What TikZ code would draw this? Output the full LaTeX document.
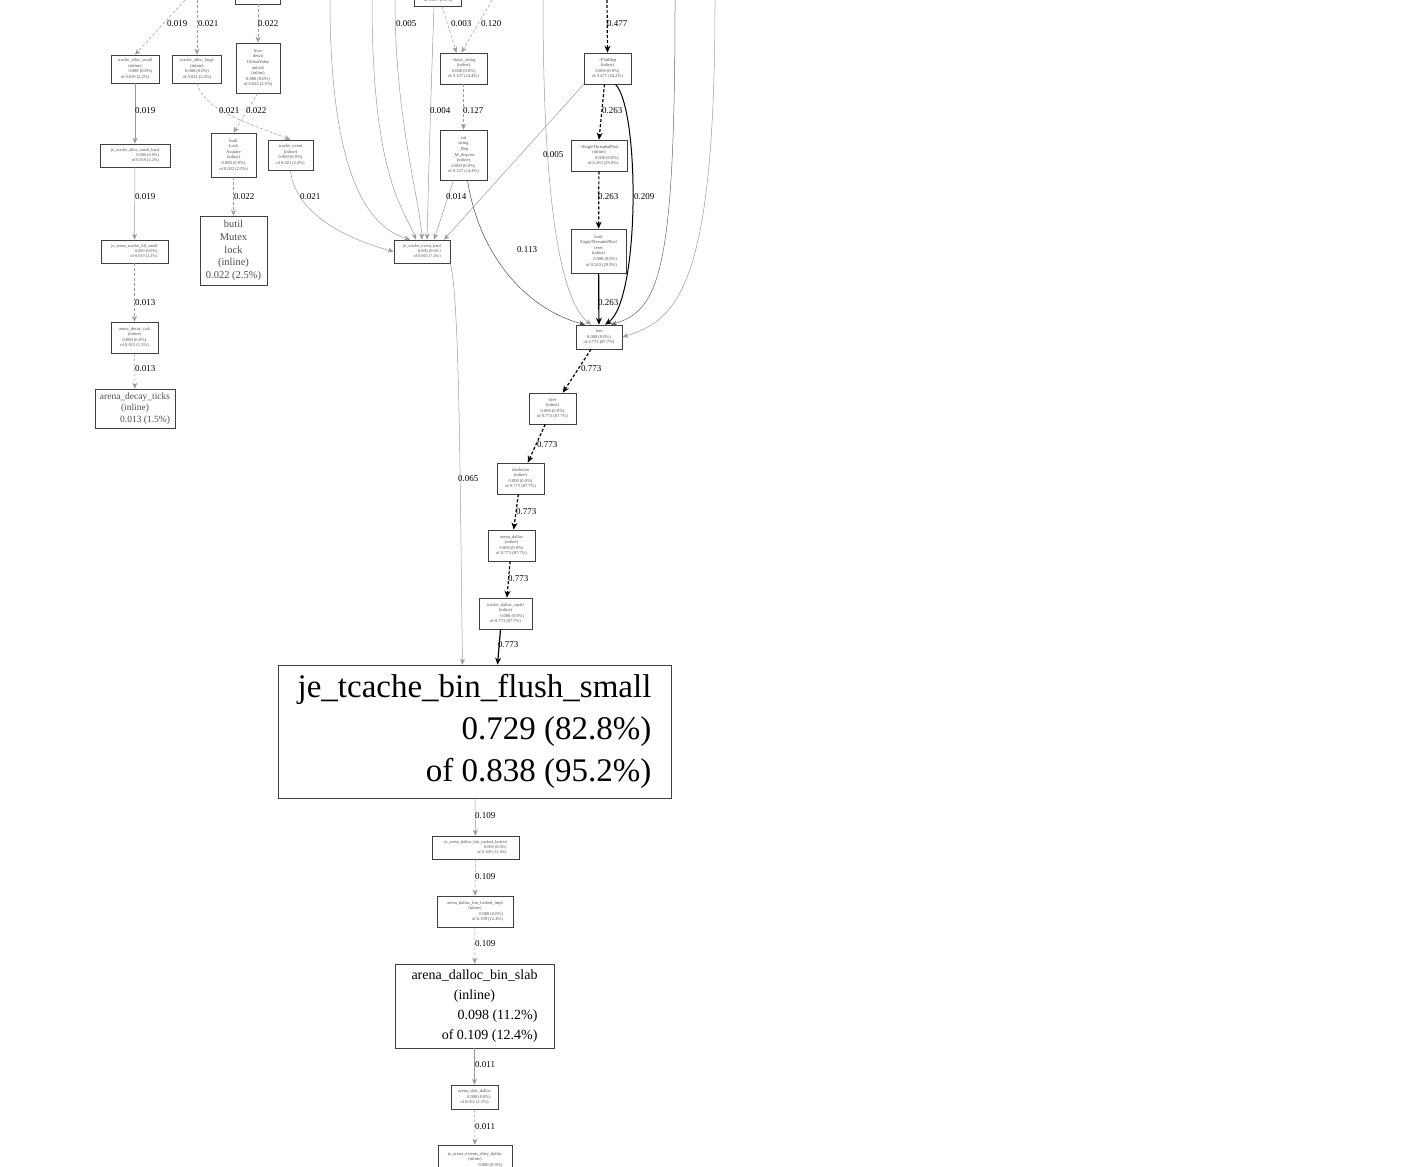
\documentclass[tikz,border=0pt]{standalone}
\usepackage{fontspec}
\setmainfont{Liberation Serif}
\usetikzlibrary{arrows.meta}
\newcommand{\NB}[8]{\node[pbox,minimum width=#4pt,minimum height=#5pt,font=\fontsize{#6}{#7}\selectfont] (#1) at (#2,#3) {#8};}
\tikzset{
 pbox/.style={draw=black!75,line width=0.6pt,inner sep=0pt,align=center,text=black!70},
 lab/.style={font=\fontsize{9}{10}\selectfont,inner sep=0pt,anchor=west},
 e/.style={-{Stealth[length=6pt,width=5pt]},draw=black!40,line width=0.5pt},
 ed/.style={e,dashed,dash pattern=on 3pt off 2pt},
 et/.style={-{Stealth[length=7pt,width=6pt]},draw=black,line width=1.2pt},
 etd/.style={et,dash pattern=on 3pt off 2pt},
}
\begin{document}
\begin{tikzpicture}[x=1pt,y=-1pt]
\useasboundingbox (0,0) rectangle (1412,1166);
\begin{scope}
\clip (0,0) rectangle (1412,1166);
% partial top nodes
\node[pbox,minimum width=45pt,minimum height=20pt] (topl) at (258,-6) {};
\node[pbox,minimum width=47pt,minimum height=20pt,font=\fontsize{4.5}{5}\selectfont] (topm) at (438,-4) {\\[6pt]of 0.007 (0.8\%)};
% left column
\NB{tas}{135}{69}{48}{28}{4.5}{5.4}{tcache\_alloc\_small\\(inline)\\\hfill0.000 (0.0\%)\\of 0.019 (2.2\%)}
\NB{tal}{197}{69}{49}{28}{4.5}{5.4}{tcache\_alloc\_large\\(inline)\\0.000 (0.0\%)\\of 0.021 (2.4\%)}
\NB{bvar}{258}{68}{44}{50}{4.5}{5.6}{bvar\\detail\\GlobalValue\\unlock\\(inline)\\0.000 (0.0\%)\\of 0.022 (2.5\%)}
\NB{tash}{135}{155.5}{70}{23}{4.3}{5.2}{je\_tcache\_alloc\_small\_hard\\\hfill0.000 (0.0\%)\\\hfill of 0.019 (2.2\%)}
\NB{bla}{233.5}{155}{45}{44}{4.5}{5.6}{butil\\Lock\\Acquire\\(inline)\\0.000 (0.0\%)\\of 0.022 (2.5\%)}
\NB{tev}{290.5}{155}{45}{30}{4.5}{5.4}{tcache\_event\\(inline)\\0.000 (0.0\%)\\of 0.021 (2.4\%)}
\NB{atf}{134.5}{251.5}{67}{23}{4.3}{5.2}{je\_arena\_tcache\_fill\_small\\\hfill0.000 (0.0\%)\\\hfill of 0.019 (2.2\%)}
\NB{mtx}{233.5}{250.5}{67}{69}{10.5}{12.6}{butil\\Mutex\\lock\\(inline)\\0.022 (2.5\%)}
\NB{adt}{134.5}{337.5}{47}{31}{4.5}{5.4}{arena\_decay\_tick\\(inline)\\0.000 (0.0\%)\\of 0.013 (1.5\%)}
\NB{adts}{135}{408.5}{80}{39}{9.5}{11.4}{arena\_decay\_ticks\\(inline)\\\hfill0.013 (1.5\%)}
% middle
\NB{bs}{463.5}{68.5}{47}{31}{4.5}{5.4}{\textasciitilde basic\_string\\(inline)\\\hfill0.000 (0.0\%)\\of 0.127 (14.4\%)}
\NB{rep}{463.5}{155}{47}{50}{4.5}{5.6}{std\\string\\\_Rep\\\_M\_dispose\\(inline)\\0.000 (0.0\%)\\of 0.127 (14.4\%)}
\NB{teh}{422}{251.5}{56}{23}{4.3}{5.2}{je\_tcache\_event\_hard\\\hfill0.000 (0.0\%)\\\hfill of 0.065 (7.4\%)}
% right
\NB{fm}{607.5}{68.5}{47}{31}{4.5}{5.4}{\textasciitilde FlatMap\\(inline)\\\hfill0.000 (0.0\%)\\of 0.477 (54.2\%)}
\NB{stp}{599}{155.5}{56}{31}{4.5}{5.4}{\textasciitilde SingleThreadedPool\\(inline)\\\hfill0.000 (0.0\%)\\\hfill of 0.263 (29.9\%)}
\NB{rst}{598.5}{251}{55}{44}{4.5}{5.6}{butil\\SingleThreadedPool\\reset\\(inline)\\\hfill0.000 (0.0\%)\\\hfill of 0.263 (29.9\%)}
\NB{free}{599}{337}{46}{24}{4.5}{5.4}{free\\\hfill0.000 (0.0\%)\\of 0.773 (87.7\%)}
\NB{ifree}{552.5}{408.5}{47}{31}{4.5}{5.4}{ifree\\(inline)\\\hfill0.000 (0.0\%)\\of 0.773 (87.7\%)}
\NB{idm}{520.5}{478.5}{47}{31}{4.5}{5.4}{idalloctm\\(inline)\\\hfill0.000 (0.0\%)\\of 0.773 (87.7\%)}
\NB{ad}{511.5}{545.5}{47}{31}{4.5}{5.4}{arena\_dalloc\\(inline)\\\hfill0.000 (0.0\%)\\of 0.773 (87.7\%)}
\NB{tds}{505.5}{613.5}{53}{31}{4.5}{5.4}{tcache\_dalloc\_small\\(inline)\\\hfill0.000 (0.0\%)\\of 0.773 (87.7\%)}
% big
\node[pbox,text=black,minimum width=393pt,minimum height=133pt,font=\fontsize{33}{42}\selectfont] (fl) at (474.5,731.5) {je\_tcache\_bin\_flush\_small\\\hfill0.729 (82.8\%)\\\hfill of 0.838 (95.2\%)};
\NB{jk}{475.5}{847.5}{87}{23}{4.3}{5.2}{je\_arena\_dalloc\_bin\_junked\_locked\\\hfill0.000 (0.0\%)\\\hfill of 0.109 (12.4\%)}
\NB{imp}{475}{911.5}{76}{31}{4.5}{5.4}{arena\_dalloc\_bin\_locked\_impl\\(inline)\\\hfill0.000 (0.0\%)\\\hfill of 0.109 (12.4\%)}
\node[pbox,text=black,minimum width=159pt,minimum height=84pt,font=\fontsize{14}{20}\selectfont] (slab) at (474.5,1006) {arena\_dalloc\_bin\_slab\\(inline)\\\hfill0.098 (11.2\%)\\\hfill of 0.109 (12.4\%)};
\NB{sd}{474.5}{1097}{47}{24}{4.5}{5.4}{arena\_slab\_dalloc\\\hfill0.000 (0.0\%)\\of 0.011 (1.2\%)}
\NB{ext}{475}{1162}{74}{34}{4.5}{5.4}{je\_arena\_extents\_dirty\_dalloc\\(inline)\\\hfill0.000 (0.0\%)\\~}
% free ends at top
\coordinate (c1) at (185,0); \coordinate (c2) at (197,0);
\coordinate (c3) at (330,0); \coordinate (c4) at (372,0); \coordinate (c5) at (395,0);
\coordinate (c6) at (492,0); \coordinate (c7) at (543,0); \coordinate (c8) at (607,0);
\coordinate (c9) at (675,0); \coordinate (c10) at (715,0);
% left edges
\draw[ed] (c1) -- (tas.north);
\draw[ed] (c2) -- (tal.north);
\draw[ed] (topl.south) -- (bvar.north);
\draw[e] (tas) -- (tash);
\draw[ed] (tal.south) .. controls (205,110) and (240,120) .. (tev.north);
\draw[ed] (bvar.south) -- (bla.north);
\draw[e] (tash) -- (atf);
\draw[ed] (bla) -- (mtx);
\draw[ed] (atf) -- (adt);
\draw[ed] (adt) -- (adts);
\draw[e] (tev.south) .. controls (295,215) and (350,240) .. (teh.west);
% into teh
\draw[e] (c3) .. controls (330,200) and (380,230) .. ([xshift=-12pt]teh.north);
\draw[e] (c4) .. controls (372,180) and (405,210) .. ([xshift=-6pt]teh.north);
\draw[e] (c5) .. controls (395,120) and (420,200) .. (teh.north);
\draw[e] ([xshift=-4pt]topm.south) .. controls (430,120) and (428,200) .. ([xshift=5pt]teh.north);
\draw[e] ([xshift=-10pt]rep.south) -- ([xshift=12pt]teh.north);
\draw[e] (fm.south west) -- ([xshift=22pt]teh.north);
% middle
\draw[ed] ([xshift=4pt]topm.south) -- ([xshift=-7pt]bs.north);
\draw[ed] (c6) -- ([xshift=-2pt]bs.north);
\draw[ed] (bs) -- (rep);
\draw[e,draw=black!70] ([xshift=4pt]rep.south) .. controls (480,260) and (530,310) .. ([xshift=-14pt]free.north);
\draw[e] (c7) .. controls (543,200) and (560,300) .. ([xshift=-8pt]free.north);
% right
\draw[etd] (c8) -- (fm.north);
\draw[etd] ([xshift=-3pt]fm.south) -- (stp.north);
\draw[et,line width=1pt] ([xshift=8pt]fm.south) .. controls (640,110) and (640,300) .. ([xshift=6pt]free.north);
\draw[etd] (stp) -- (rst);
\draw[et] (rst) -- (free);
\draw[e,draw=black!60] (c9) .. controls (675,270) and (660,310) .. ([xshift=12pt]free.north);
\draw[e] (c10) .. controls (715,280) and (680,320) .. (free.east);
% chain
\draw[etd] (free) -- (ifree);
\draw[etd] (ifree) -- (idm);
\draw[etd] (idm) -- (ad);
\draw[etd] (ad) -- (tds);
\draw[et] ([xshift=-5pt]tds.south) -- ([xshift=23pt]fl.north);
\draw[e] (teh.south east) .. controls (460,300) and (460,500) .. ([xshift=-12pt]fl.north);
% bottom
\draw[e] (fl) -- (jk);
\draw[ed] (jk) -- (imp);
\draw[ed] (imp) -- (slab);
\draw[e] (slab) -- (sd);
\draw[ed] (sd) -- (ext);
% labels
\node[lab] (l1) at (167,24) {0.019};
\node[lab] (l2) at (198,24) {0.021};
\node[lab] (l3) at (258,24) {0.022};
\node[lab] (l4) at (135,111) {0.019};
\node[lab] (l5) at (219,111) {0.021};
\node[lab] (l6) at (246,111) {0.022};
\node[lab] (l7) at (135,197) {0.019};
\node[lab] (l8) at (234,197) {0.022};
\node[lab] (l9) at (300,197) {0.021};
\node[lab] (l10) at (135,303) {0.013};
\node[lab] (l11) at (135,369) {0.013};
\node[lab] (l12) at (396,24) {0.005};
\node[lab] (l13) at (451,24) {0.003};
\node[lab] (l14) at (481,24) {0.120};
\node[lab] (l15) at (430,111) {0.004};
\node[lab] (l16) at (463,111) {0.127};
\node[lab] (l17) at (446,197) {0.014};
\node[lab] (l18) at (517,250) {0.113};
\node[lab] (l19) at (543,155) {0.005};
\node[lab] (l20) at (607,24) {0.477};
\node[lab] (l21) at (602,111) {0.263};
\node[lab] (l22) at (598,197) {0.263};
\node[lab] (l23) at (634,197) {0.209};
\node[lab] (l24) at (598,303) {0.263};
\node[lab] (l25) at (581,369) {0.773};
\node[lab] (l26) at (537,445) {0.773};
\node[lab] (l27) at (516,512) {0.773};
\node[lab] (l28) at (508,579) {0.773};
\node[lab] (l29) at (498,645) {0.773};
\node[lab] (l30) at (458,479) {0.065};
\node[lab] (l31) at (475,816) {0.109};
\node[lab] (l32) at (475,877) {0.109};
\node[lab] (l33) at (475,944) {0.109};
\node[lab] (l34) at (475,1065) {0.011};
\node[lab] (l35) at (475,1127) {0.011};
\end{scope}
\end{tikzpicture}
\end{document}
